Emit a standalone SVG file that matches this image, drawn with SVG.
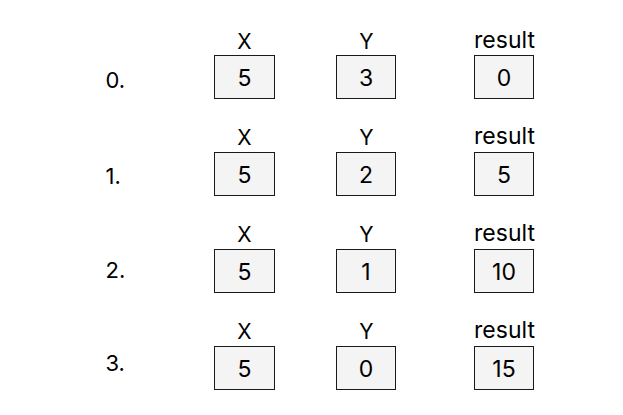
<svg xmlns="http://www.w3.org/2000/svg" width="623" height="415" viewBox="0 0 623 415">
<style>
.bg{fill:#ffffff}
.box{fill:#f4f4f4;stroke:#1a1a1a;stroke-width:1}
.t{font-family:Inter,"Liberation Sans",sans-serif;font-size:21px;fill:#000;text-anchor:middle}
.res{font-size:23px}
.v{font-family:Inter,"Liberation Sans",sans-serif;font-size:23px;fill:#000;text-anchor:middle}
.rl{font-family:Inter,"Liberation Sans",sans-serif;font-size:22px;fill:#000;text-anchor:start}
</style>
<rect class="bg" x="0" y="0" width="623" height="415"/>
<g id="row0">
  <text class="rl" x="105.5" y="88">0.</text>
  <g id="x0"><text class="t" x="244.5" y="48.5">X</text><rect class="box" x="214.5" y="55.5" width="60" height="43"/><text class="v" x="244.5" y="86">5</text></g>
  <g id="y0"><text class="t" x="366.5" y="48.5">Y</text><rect class="box" x="336.5" y="55.5" width="59" height="43"/><text class="v" x="366" y="86">3</text></g>
  <g id="r0"><text class="t res" x="504.5" y="47.5">result</text><rect class="box" x="474.5" y="55.5" width="59" height="43"/><text class="v" x="504" y="86">0</text></g>
</g>
<g id="row1">
  <text class="rl" x="105.5" y="184">1.</text>
  <g id="x1"><text class="t" x="244.5" y="145">X</text><rect class="box" x="214.5" y="152.5" width="60" height="43"/><text class="v" x="244.5" y="183">5</text></g>
  <g id="y1"><text class="t" x="366.5" y="145">Y</text><rect class="box" x="336.5" y="152.5" width="59" height="43"/><text class="v" x="366" y="183">2</text></g>
  <g id="r1"><text class="t res" x="504.5" y="144">result</text><rect class="box" x="474.5" y="152.5" width="59" height="43"/><text class="v" x="504" y="183">5</text></g>
</g>
<g id="row2">
  <text class="rl" x="105.5" y="278">2.</text>
  <g id="x2"><text class="t" x="244.5" y="242">X</text><rect class="box" x="214.5" y="249.5" width="60" height="43"/><text class="v" x="244.5" y="280">5</text></g>
  <g id="y2"><text class="t" x="366.5" y="242">Y</text><rect class="box" x="336.5" y="249.5" width="59" height="43"/><text class="v" x="366" y="280">1</text></g>
  <g id="r2"><text class="t res" x="504.5" y="241">result</text><rect class="box" x="474.5" y="249.5" width="59" height="43"/><text class="v" x="504" y="280">10</text></g>
</g>
<g id="row3">
  <text class="rl" x="105.5" y="371">3.</text>
  <g id="x3"><text class="t" x="244.5" y="339">X</text><rect class="box" x="214.5" y="346.5" width="60" height="43"/><text class="v" x="244.5" y="377">5</text></g>
  <g id="y3"><text class="t" x="366.5" y="339">Y</text><rect class="box" x="336.5" y="346.5" width="59" height="43"/><text class="v" x="366" y="377">0</text></g>
  <g id="r3"><text class="t res" x="504.5" y="338">result</text><rect class="box" x="474.5" y="346.5" width="59" height="43"/><text class="v" x="504" y="377">15</text></g>
</g>
<g id="connectors"></g>
</svg>
